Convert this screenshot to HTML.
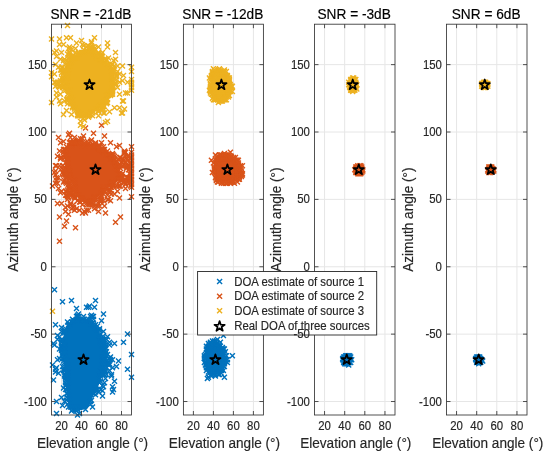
<!DOCTYPE html><html><head><meta charset="utf-8"><style>html,body{margin:0;padding:0;background:#fff;width:550px;height:459px;overflow:hidden}svg{display:block;will-change:transform}text{font-family:"Liberation Sans", sans-serif}</style></head><body>
<svg width="550" height="459" viewBox="0 0 550 459">
<rect width="550" height="459" fill="#fff"/>
<defs>
<marker id="mb" markerUnits="userSpaceOnUse" markerWidth="8" markerHeight="8" refX="4" refY="4" overflow="visible"><path d="M1.5 1.5L6.5 6.5M1.5 6.5L6.5 1.5" stroke="#0072BD" stroke-width="1.4" fill="none"/></marker>
<marker id="mo" markerUnits="userSpaceOnUse" markerWidth="8" markerHeight="8" refX="4" refY="4" overflow="visible"><path d="M1.5 1.5L6.5 6.5M1.5 6.5L6.5 1.5" stroke="#D95319" stroke-width="1.4" fill="none"/></marker>
<marker id="my" markerUnits="userSpaceOnUse" markerWidth="8" markerHeight="8" refX="4" refY="4" overflow="visible"><path d="M1.5 1.5L6.5 6.5M1.5 6.5L6.5 1.5" stroke="#EDB120" stroke-width="1.4" fill="none"/></marker>
</defs>
<path d="M61.50 24.20V415.00M81.50 24.20V415.00M101.50 24.20V415.00M121.50 24.20V415.00M51.50 401.52H131.50M51.50 334.14H131.50M51.50 266.77H131.50M51.50 199.39H131.50M51.50 132.01H131.50M51.50 64.63H131.50" stroke="#e6e6e6" stroke-width="1.00" fill="none"/>
<path d="M193.40 24.20V415.00M213.40 24.20V415.00M233.40 24.20V415.00M253.40 24.20V415.00M183.40 401.52H263.40M183.40 334.14H263.40M183.40 266.77H263.40M183.40 199.39H263.40M183.40 132.01H263.40M183.40 64.63H263.40" stroke="#e6e6e6" stroke-width="1.00" fill="none"/>
<path d="M324.56 24.20V415.00M344.69 24.20V415.00M364.81 24.20V415.00M384.94 24.20V415.00M314.50 401.52H395.00M314.50 334.14H395.00M314.50 266.77H395.00M314.50 199.39H395.00M314.50 132.01H395.00M314.50 64.63H395.00" stroke="#e6e6e6" stroke-width="1.00" fill="none"/>
<path d="M456.56 24.20V415.00M476.69 24.20V415.00M496.81 24.20V415.00M516.94 24.20V415.00M446.50 401.52H527.00M446.50 334.14H527.00M446.50 266.77H527.00M446.50 199.39H527.00M446.50 132.01H527.00M446.50 64.63H527.00" stroke="#e6e6e6" stroke-width="1.00" fill="none"/>
<path d="M80.4 318.0L79.3 318.0L78.1 318.0L76.9 318.0L75.8 318.2L74.6 318.7L73.3 319.3L72.0 320.3L70.6 321.5L69.2 322.9L67.8 324.4L66.6 326.1L65.6 327.8L64.8 329.8L64.2 331.9L63.7 334.2L63.4 336.5L63.1 338.8L62.9 340.9L62.7 342.9L62.7 344.9L62.7 346.8L62.7 348.7L62.9 350.5L63.0 352.3L63.2 354.0L63.4 355.7L63.7 357.3L64.0 358.8L64.2 360.4L64.5 362.0L64.8 363.6L65.0 365.3L65.3 367.0L65.5 368.7L65.6 370.5L65.8 372.3L65.9 374.2L66.0 376.3L66.1 378.5L66.2 380.6L66.3 382.7L66.4 384.7L66.4 386.5L66.4 388.1L66.4 389.7L66.5 391.2L66.5 392.7L66.6 394.2L66.8 395.6L67.0 396.9L67.2 398.2L67.4 399.5L67.7 400.7L68.0 401.9L68.3 403.1L68.6 404.4L68.9 405.7L69.2 406.9L69.8 407.9L70.5 408.7L71.6 409.3L72.8 409.7L74.2 409.9L75.7 410.0L77.2 410.0L78.6 410.0L80.0 410.0L81.4 409.9L82.9 409.8L84.3 409.5L85.6 409.1L86.7 408.5L87.6 407.7L88.5 406.6L89.2 405.4L89.8 404.2L90.4 402.9L91.0 401.6L91.6 400.4L92.2 399.1L92.6 397.8L93.1 396.5L93.7 395.2L94.3 393.8L95.0 392.3L95.8 390.9L96.6 389.4L97.4 387.8L98.2 386.2L98.9 384.4L99.7 382.5L100.5 380.5L101.3 378.4L102.0 376.3L102.6 374.3L103.2 372.4L103.5 370.6L103.8 368.8L104.0 367.0L104.2 365.3L104.3 363.7L104.5 362.0L104.7 360.4L104.9 358.8L105.0 357.2L105.1 355.6L105.1 354.0L105.0 352.3L104.8 350.6L104.5 348.8L104.0 346.9L103.5 345.0L103.0 343.1L102.4 341.1L101.7 339.0L101.0 336.8L100.2 334.5L99.2 332.2L98.2 330.1L97.0 328.1L95.7 326.4L94.1 324.7L92.4 323.1L90.7 321.7L89.0 320.5L87.5 319.5L86.2 318.8L85.0 318.3L83.8 318.1L82.7 318.0L81.6 318.0Z" fill="#0072BD"/>
<polyline points="52.5,365.1 53.5,343.6 53.5,380.0 54.5,289.7 54.5,344.9 55.5,324.7 55.5,369.2 55.5,371.9 56.5,367.8 56.5,401.5 56.5,413.6 57.5,335.5 57.5,339.5 57.5,359.8 58.5,373.2 59.5,336.8 59.5,349.0 59.5,358.4 61.5,327.4 61.5,331.4 61.5,339.5 61.5,340.9 61.5,342.2 61.5,346.3 61.5,347.6 61.5,349.0 61.5,350.3 61.5,397.5 62.5,301.8 62.5,343.6 62.5,346.3 62.5,350.3 62.5,353.0 62.5,354.4 62.5,355.7 62.5,358.4 62.5,366.5 62.5,405.6 63.5,331.4 63.5,343.6 63.5,351.7 63.5,353.0 63.5,358.4 63.5,361.1 63.5,369.2 63.5,370.5 63.5,388.1 64.5,330.1 64.5,331.4 64.5,332.8 64.5,342.2 64.5,344.9 64.5,349.0 64.5,351.7 64.5,353.0 64.5,357.1 64.5,362.4 64.5,374.6 64.5,375.9 64.5,401.5 65.5,328.8 65.5,331.4 65.5,369.2 65.5,374.6 65.5,375.9 65.5,377.3 65.5,380.0 65.5,382.7 65.5,385.4 65.5,389.4 66.5,359.8 66.5,361.1 66.5,362.4 66.5,365.1 66.5,367.8 66.5,371.9 66.5,377.3 66.5,384.0 66.5,393.4 66.5,397.5 66.5,400.2 67.5,322.0 67.5,362.4 67.5,365.1 67.5,369.2 67.5,371.9 67.5,375.9 67.5,380.0 67.5,386.7 67.5,388.1 67.5,393.4 67.5,404.2 68.5,324.7 68.5,326.1 68.5,367.8 68.5,374.6 68.5,382.7 68.5,394.8 68.5,406.9 69.5,323.4 69.5,324.7 69.5,326.1 69.5,398.8 70.5,406.9 71.5,300.5 71.5,322.0 71.5,411.0 72.5,319.3 72.5,322.0 72.5,406.9 72.5,409.6 73.5,320.7 73.5,408.3 74.5,406.9 74.5,409.6 75.5,409.6 76.5,308.5 76.5,316.6 76.5,406.9 76.5,411.0 77.5,315.3 77.5,316.6 77.5,319.3 77.5,408.3 77.5,409.6 77.5,415.0 78.5,313.9 78.5,316.6 79.5,413.6 80.5,320.7 82.5,319.3 83.5,316.6 83.5,319.3 85.5,409.6 86.5,307.2 86.5,320.7 87.5,320.7 88.5,307.2 88.5,319.3 89.5,305.9 89.5,320.7 90.5,316.6 90.5,319.3 90.5,323.4 90.5,401.5 90.5,404.2 91.5,315.3 91.5,323.4 91.5,324.7 91.5,400.2 92.5,316.6 92.5,323.4 92.5,406.9 93.5,316.6 93.5,319.3 93.5,324.7 93.5,393.4 94.5,307.2 94.5,326.1 94.5,327.4 95.5,300.5 95.5,324.7 95.5,388.1 95.5,389.4 95.5,392.1 95.5,394.8 96.5,330.1 96.5,389.4 96.5,390.7 97.5,326.1 97.5,389.4 98.5,330.1 98.5,392.1 99.5,328.8 99.5,330.1 99.5,336.8 99.5,339.5 99.5,374.6 99.5,378.6 99.5,382.7 100.5,334.1 100.5,340.9 100.5,342.2 100.5,370.5 100.5,373.2 100.5,375.9 100.5,381.3 100.5,389.4 101.5,320.7 101.5,367.8 101.5,370.5 102.5,336.8 102.5,338.2 102.5,344.9 102.5,346.3 102.5,357.1 102.5,358.4 102.5,361.1 102.5,363.8 102.5,365.1 102.5,369.2 102.5,371.9 102.5,373.2 102.5,385.4 102.5,390.7 102.5,396.1 103.5,313.9 103.5,331.4 103.5,339.5 103.5,340.9 103.5,347.6 103.5,355.7 103.5,357.1 103.5,359.8 103.5,366.5 103.5,374.6 103.5,386.7 104.5,343.6 104.5,344.9 104.5,350.3 104.5,355.7 104.5,359.8 104.5,361.1 104.5,363.8 104.5,367.8 104.5,374.6 104.5,382.7 105.5,344.9 105.5,347.6 105.5,349.0 105.5,353.0 105.5,354.4 105.5,370.5 105.5,371.9 105.5,378.6 106.5,339.5 106.5,351.7 106.5,363.8 106.5,367.8 106.5,374.6 107.5,336.8 107.5,354.4 107.5,361.1 107.5,363.8 108.5,358.4 108.5,365.1 109.5,342.2 109.5,344.9 109.5,358.4 109.5,363.8 109.5,365.1 109.5,370.5 110.5,357.1 110.5,359.8 111.5,374.6 111.5,375.9 112.5,359.8 112.5,367.8 112.5,386.7 112.5,392.1 113.5,389.4 114.5,343.6 114.5,381.3 116.5,366.5 118.5,361.1 123.5,342.2 127.5,334.1 127.5,369.2 131.5,354.4 131.5,377.3" fill="none" stroke="none" marker-start="url(#mb)" marker-mid="url(#mb)" marker-end="url(#mb)"/>
<path d="M82.9 142.8L80.8 142.7L78.5 142.6L76.2 142.6L74.0 142.7L72.0 142.9L70.3 143.4L68.8 144.2L67.5 145.1L66.5 146.3L65.6 147.5L64.9 148.9L64.4 150.3L64.1 151.9L64.1 153.7L64.3 155.5L64.6 157.4L64.9 159.2L65.2 160.9L65.4 162.5L65.6 164.1L65.8 165.6L66.1 167.1L66.3 168.6L66.5 170.0L66.6 171.4L66.6 172.9L66.6 174.3L66.6 175.7L66.8 177.0L67.2 178.2L67.8 179.1L68.8 179.9L69.8 180.5L70.9 181.2L71.8 181.9L72.4 182.8L72.8 183.9L72.9 185.2L72.9 186.6L73.0 188.0L73.1 189.4L73.4 190.7L74.0 191.9L74.7 193.0L75.6 194.0L76.5 195.0L77.4 196.0L78.2 197.0L79.0 197.9L79.8 198.8L80.7 199.6L81.5 200.4L82.3 201.1L83.2 201.6L84.0 202.1L84.9 202.4L85.7 202.7L86.6 202.9L87.4 203.0L88.3 203.0L89.1 203.0L90.0 202.9L90.9 202.7L91.7 202.4L92.6 202.0L93.4 201.5L94.2 200.9L95.0 200.2L95.8 199.4L96.6 198.6L97.5 197.7L98.4 196.8L99.3 195.8L100.3 194.8L101.3 193.8L102.4 192.7L103.6 191.6L104.8 190.5L106.2 189.4L107.7 188.1L109.4 186.8L111.1 185.6L112.7 184.4L114.2 183.3L115.5 182.5L116.9 181.7L118.1 181.1L119.2 180.3L120.1 179.5L120.7 178.5L121.0 177.3L121.0 176.0L120.7 174.5L120.4 173.0L119.9 171.5L119.5 170.0L119.1 168.5L118.6 167.0L118.1 165.5L117.5 164.0L116.8 162.4L115.8 160.8L114.7 159.2L113.4 157.5L112.1 155.8L110.6 154.1L109.0 152.5L107.3 151.1L105.4 149.7L103.4 148.5L101.3 147.3L99.2 146.2L97.0 145.2L95.0 144.4L92.9 143.8L90.9 143.4L88.9 143.2L86.9 143.0L84.9 142.9Z" fill="#D95319"/>
<polyline points="52.5,185.9 54.5,172.4 55.5,165.7 55.5,171.1 55.5,175.1 55.5,183.2 56.5,165.7 56.5,177.8 56.5,180.5 57.5,156.3 57.5,183.2 57.5,203.4 58.5,137.4 58.5,177.8 58.5,188.6 59.5,150.9 59.5,165.7 59.5,216.9 59.5,241.2 60.5,142.8 60.5,157.6 60.5,159.0 60.5,169.7 60.5,192.7 61.5,157.6 61.5,191.3 61.5,203.4 62.5,165.7 62.5,172.4 63.5,141.4 63.5,149.5 63.5,152.2 63.5,169.7 63.5,173.8 63.5,175.1 63.5,181.9 64.5,149.5 64.5,154.9 64.5,157.6 64.5,167.0 64.5,171.1 64.5,180.5 64.5,226.3 65.5,149.5 65.5,154.9 65.5,157.6 65.5,163.0 65.5,168.4 65.5,175.1 65.5,177.8 65.5,181.9 65.5,191.3 65.5,195.3 65.5,207.5 65.5,211.5 66.5,146.8 66.5,150.9 66.5,159.0 66.5,175.1 66.5,177.8 66.5,183.2 66.5,191.3 66.5,195.3 66.5,220.9 67.5,159.0 67.5,163.0 67.5,165.7 67.5,168.4 67.5,172.4 67.5,175.1 67.5,176.5 67.5,189.9 67.5,195.3 67.5,196.7 67.5,199.4 67.5,206.1 68.5,134.7 68.5,168.4 68.5,172.4 68.5,180.5 68.5,183.2 68.5,184.6 68.5,188.6 68.5,198.0 68.5,214.2 69.5,133.3 69.5,142.8 69.5,145.5 69.5,171.1 69.5,175.1 69.5,185.9 69.5,188.6 69.5,192.7 69.5,194.0 70.5,137.4 70.5,142.8 70.5,177.8 70.5,180.5 70.5,188.6 70.5,189.9 70.5,194.0 70.5,203.4 70.5,204.8 71.5,142.8 71.5,144.1 71.5,145.5 71.5,184.6 71.5,208.8 72.5,142.8 72.5,187.3 72.5,188.6 72.5,194.0 72.5,196.7 73.5,141.4 73.5,142.8 73.5,180.5 73.5,191.3 73.5,194.0 73.5,204.8 73.5,207.5 74.5,137.4 74.5,142.8 74.5,180.5 74.5,183.2 74.5,184.6 74.5,187.3 74.5,188.6 74.5,189.9 74.5,196.7 74.5,198.0 74.5,210.2 75.5,142.8 75.5,188.6 75.5,192.7 75.5,198.0 75.5,227.7 76.5,141.4 76.5,142.8 76.5,195.3 76.5,208.8 77.5,142.8 77.5,200.7 78.5,140.1 78.5,195.3 79.5,142.8 79.5,198.0 79.5,202.1 79.5,210.2 80.5,138.7 80.5,144.1 80.5,202.1 81.5,141.4 81.5,145.5 81.5,198.0 81.5,199.4 82.5,138.7 82.5,199.4 82.5,200.7 82.5,204.8 82.5,212.9 83.5,136.1 84.5,142.8 84.5,144.1 84.5,145.5 84.5,211.5 85.5,128.0 85.5,212.9 86.5,200.7 86.5,203.4 86.5,210.2 87.5,141.4 87.5,204.8 88.5,144.1 88.5,210.2 89.5,145.5 89.5,202.1 89.5,203.4 89.5,204.8 90.5,141.4 90.5,200.7 91.5,140.1 91.5,202.1 92.5,200.7 92.5,204.8 93.5,133.3 93.5,145.5 93.5,146.8 93.5,199.4 93.5,203.4 94.5,146.8 94.5,196.7 94.5,198.0 94.5,199.4 94.5,206.1 94.5,208.8 95.5,142.8 95.5,144.1 95.5,145.5 96.5,199.4 97.5,206.1 98.5,145.5 98.5,148.2 98.5,203.4 98.5,211.5 99.5,145.5 99.5,146.8 99.5,149.5 99.5,196.7 99.5,206.1 100.5,149.5 100.5,199.4 100.5,200.7 100.5,202.1 101.5,125.3 101.5,142.8 101.5,149.5 101.5,192.7 101.5,195.3 101.5,196.7 101.5,200.7 102.5,150.9 102.5,188.6 103.5,146.8 103.5,149.5 103.5,152.2 103.5,187.3 103.5,189.9 103.5,191.3 103.5,194.0 103.5,200.7 104.5,136.1 104.5,149.5 104.5,191.3 104.5,206.1 105.5,191.3 105.5,212.9 106.5,154.9 106.5,188.6 107.5,150.9 107.5,195.3 107.5,199.4 108.5,153.6 108.5,199.4 109.5,154.9 109.5,184.6 109.5,189.9 109.5,192.7 110.5,142.8 110.5,154.9 110.5,156.3 110.5,159.0 110.5,183.2 110.5,187.3 110.5,189.9 110.5,200.7 111.5,159.0 111.5,184.6 111.5,187.3 111.5,194.0 112.5,153.6 112.5,154.9 112.5,181.9 112.5,183.2 112.5,184.6 112.5,185.9 113.5,154.9 113.5,157.6 113.5,161.7 113.5,184.6 113.5,185.9 114.5,156.3 114.5,159.0 114.5,160.3 114.5,194.0 115.5,163.0 115.5,164.3 115.5,167.0 115.5,180.5 115.5,222.3 116.5,146.8 116.5,168.4 116.5,185.9 117.5,161.7 117.5,165.7 117.5,167.0 117.5,191.3 118.5,159.0 118.5,169.7 118.5,179.2 118.5,185.9 119.5,145.5 119.5,157.6 119.5,164.3 119.5,165.7 119.5,173.8 119.5,176.5 119.5,181.9 119.5,185.9 119.5,198.0 120.5,157.6 120.5,165.7 120.5,168.4 120.5,175.1 120.5,180.5 120.5,185.9 120.5,216.9 121.5,159.0 121.5,161.7 121.5,175.1 121.5,176.5 121.5,179.2 121.5,180.5 122.5,159.0 122.5,165.7 122.5,173.8 122.5,176.5 123.5,160.3 124.5,150.9 124.5,152.2 124.5,153.6 124.5,164.3 124.5,180.5 124.5,181.9 125.5,152.2 125.5,156.3 125.5,161.7 125.5,163.0 125.5,165.7 125.5,183.2 125.5,184.6 125.5,188.6 126.5,159.0 126.5,167.0 126.5,168.4 126.5,177.8 127.5,156.3 127.5,165.7 127.5,177.8 127.5,180.5 128.5,169.7 128.5,177.8 128.5,183.2 129.5,165.7 129.5,167.0 129.5,173.8 129.5,177.8 130.5,157.6 130.5,159.0 130.5,163.0 130.5,164.3 130.5,172.4 130.5,179.2 130.5,181.9 130.5,185.9 131.5,146.8 131.5,152.2 131.5,154.9 131.5,157.6 131.5,160.3 131.5,163.0 131.5,165.7 131.5,168.4 131.5,171.1 131.5,173.8 131.5,176.5 131.5,179.2 131.5,181.9 131.5,184.6 131.5,187.3 131.5,196.7" fill="none" stroke="none" marker-start="url(#mo)" marker-mid="url(#mo)" marker-end="url(#mo)"/>
<path d="M87.6 49.0L86.8 49.0L86.1 49.1L85.4 49.3L84.7 49.5L83.8 49.9L82.8 50.4L81.6 51.1L80.3 51.9L78.8 52.7L77.3 53.7L75.8 54.8L74.4 55.9L73.1 57.2L71.7 58.6L70.3 60.1L69.1 61.6L68.0 63.2L67.0 64.7L66.4 66.2L65.9 67.7L65.6 69.3L65.4 70.8L65.2 72.5L65.1 74.2L64.8 76.0L64.6 77.9L64.4 79.9L64.3 81.9L64.3 83.8L64.5 85.6L64.9 87.3L65.6 89.0L66.4 90.6L67.2 92.1L68.0 93.7L68.8 95.2L69.4 96.8L70.0 98.5L70.5 100.1L71.1 101.7L71.7 103.2L72.3 104.6L73.0 105.9L73.6 107.0L74.3 108.1L74.9 109.1L75.6 110.0L76.2 111.0L76.8 111.9L77.3 112.8L77.8 113.6L78.3 114.4L78.8 115.1L79.4 115.7L80.1 116.1L80.9 116.5L81.7 116.8L82.5 116.9L83.3 117.0L84.1 117.0L84.9 117.0L85.6 116.9L86.3 116.7L87.1 116.4L87.9 116.0L88.9 115.5L90.0 114.9L91.2 114.2L92.5 113.4L93.8 112.6L95.1 111.7L96.4 110.8L97.6 109.8L98.8 108.9L100.1 108.0L101.3 106.9L102.5 105.8L103.7 104.6L104.8 103.3L105.9 101.8L107.1 100.2L108.1 98.7L109.2 97.1L110.1 95.5L111.0 93.9L111.9 92.3L112.8 90.7L113.5 89.1L114.1 87.4L114.5 85.7L114.7 83.8L114.7 81.8L114.6 79.8L114.4 77.8L114.2 75.8L113.9 74.0L113.6 72.3L113.5 70.6L113.2 69.1L112.8 67.5L112.0 66.0L110.8 64.6L109.0 63.1L106.7 61.7L104.0 60.2L101.4 58.9L99.1 57.5L97.3 56.2L96.0 55.0L95.0 53.9L94.3 52.9L93.6 51.9L93.0 51.1L92.3 50.5L91.5 49.9L90.7 49.5L89.9 49.3L89.1 49.1L88.4 49.0Z" fill="#EDB120"/>
<polyline points="51.5,39.0 51.5,72.7 51.5,76.8 51.5,102.4 52.5,311.2 54.5,52.5 54.5,74.1 54.5,82.2 55.5,64.6 55.5,82.2 55.5,86.2 56.5,51.1 56.5,56.5 56.5,92.9 56.5,97.0 57.5,82.2 57.5,84.8 58.5,67.3 58.5,86.2 59.5,39.0 59.5,44.4 59.5,86.2 59.5,87.5 59.5,101.0 60.5,59.2 60.5,70.0 60.5,80.8 60.5,82.2 60.5,94.3 60.5,103.7 61.5,52.5 61.5,67.3 61.5,70.0 61.5,72.7 61.5,78.1 62.5,67.3 62.5,80.8 62.5,83.5 62.5,87.5 63.5,44.4 63.5,60.6 63.5,72.7 63.5,74.1 63.5,78.1 63.5,80.8 63.5,86.2 63.5,87.5 63.5,114.5 64.5,59.2 64.5,68.7 64.5,70.0 64.5,71.4 64.5,75.4 64.5,88.9 64.5,101.0 65.5,60.6 65.5,64.6 65.5,70.0 65.5,80.8 65.5,83.5 65.5,84.8 65.5,86.2 65.5,90.2 66.5,37.7 66.5,74.1 66.5,75.4 66.5,78.1 66.5,79.5 66.5,80.8 66.5,86.2 66.5,87.5 66.5,99.7 66.5,110.5 67.5,25.6 67.5,53.9 67.5,64.6 67.5,66.0 67.5,70.0 67.5,76.8 67.5,78.1 67.5,87.5 67.5,90.2 67.5,94.3 67.5,98.3 67.5,99.7 67.5,101.0 67.5,103.7 68.5,48.5 68.5,57.9 68.5,61.9 68.5,68.7 68.5,90.2 68.5,91.6 69.5,47.1 69.5,52.5 69.5,53.9 69.5,57.9 69.5,63.3 69.5,64.6 69.5,66.0 69.5,90.2 69.5,91.6 69.5,98.3 70.5,37.7 70.5,48.5 70.5,61.9 70.5,63.3 70.5,97.0 70.5,98.3 70.5,101.0 70.5,102.4 70.5,103.7 71.5,49.8 71.5,57.9 71.5,114.5 72.5,56.5 72.5,59.2 72.5,99.7 72.5,102.4 72.5,106.4 72.5,107.8 73.5,55.2 73.5,59.2 73.5,60.6 74.5,57.9 74.5,106.4 74.5,107.8 74.5,109.1 75.5,48.5 75.5,52.5 75.5,110.5 76.5,43.1 76.5,53.9 76.5,57.9 77.5,110.5 77.5,111.8 77.5,114.5 77.5,115.8 78.5,52.5 78.5,53.9 78.5,113.1 78.5,115.8 79.5,113.1 79.5,115.8 80.5,113.1 80.5,121.2 80.5,125.3 81.5,40.4 81.5,52.5 81.5,114.5 81.5,115.8 82.5,44.4 83.5,45.8 83.5,49.8 83.5,52.5 83.5,118.5 83.5,126.6 84.5,114.5 84.5,119.9 85.5,52.5 85.5,114.5 86.5,47.1 86.5,51.1 87.5,45.8 87.5,115.8 88.5,45.8 88.5,117.2 89.5,49.8 89.5,51.1 89.5,115.8 90.5,47.1 90.5,49.8 90.5,111.8 90.5,114.5 91.5,41.7 91.5,43.1 92.5,47.1 92.5,49.8 92.5,113.1 92.5,115.8 93.5,47.1 93.5,52.5 93.5,53.9 93.5,111.8 94.5,37.7 94.5,48.5 94.5,51.1 95.5,49.8 95.5,53.9 96.5,56.5 96.5,57.9 96.5,109.1 98.5,47.1 98.5,52.5 98.5,53.9 98.5,109.1 98.5,110.5 98.5,111.8 98.5,115.8 99.5,56.5 99.5,59.2 99.5,106.4 100.5,56.5 100.5,59.2 100.5,60.6 100.5,105.1 101.5,53.9 101.5,56.5 101.5,59.2 101.5,60.6 101.5,105.1 101.5,109.1 102.5,52.5 102.5,56.5 102.5,60.6 102.5,106.4 102.5,107.8 102.5,109.1 103.5,102.4 103.5,103.7 103.5,105.1 103.5,106.4 103.5,113.1 104.5,59.2 104.5,61.9 104.5,101.0 104.5,106.4 104.5,113.1 105.5,122.6 106.5,59.2 106.5,60.6 106.5,95.6 106.5,99.7 106.5,101.0 106.5,102.4 106.5,103.7 107.5,43.1 107.5,47.1 107.5,64.6 107.5,94.3 107.5,95.6 107.5,99.7 107.5,102.4 107.5,121.2 108.5,57.9 108.5,64.6 108.5,95.6 109.5,92.9 109.5,111.8 110.5,67.3 110.5,94.3 110.5,95.6 111.5,64.6 111.5,71.4 111.5,76.8 111.5,80.8 111.5,90.2 111.5,91.6 111.5,94.3 112.5,64.6 112.5,70.0 112.5,71.4 112.5,80.8 112.5,83.5 112.5,88.9 112.5,90.2 112.5,91.6 112.5,92.9 112.5,94.3 113.5,60.6 113.5,68.7 113.5,70.0 113.5,80.8 113.5,86.2 114.5,66.0 114.5,78.1 114.5,83.5 114.5,107.8 115.5,52.5 115.5,59.2 115.5,83.5 115.5,84.8 116.5,74.1 116.5,75.4 116.5,76.8 116.5,79.5 117.5,66.0 117.5,71.4 117.5,87.5 119.5,74.1 119.5,82.2 119.5,94.3 119.5,107.8 121.5,113.1 122.5,66.0 122.5,80.8 122.5,101.0 122.5,113.1 123.5,75.4 123.5,101.0 124.5,109.1 125.5,92.9 127.5,82.2 127.5,92.9 131.5,67.3 131.5,71.4 131.5,79.5 131.5,82.2 131.5,84.8 131.5,87.5 131.5,90.2" fill="none" stroke="none" marker-start="url(#my)" marker-mid="url(#my)" marker-end="url(#my)"/>
<path d="M214.7 342.5L213.7 342.5L212.7 342.6L211.7 342.8L210.8 343.0L209.9 343.3L209.2 343.8L208.6 344.3L208.1 344.8L207.8 345.5L207.4 346.3L207.2 347.2L206.9 348.3L206.7 349.6L206.5 351.2L206.3 352.9L206.2 354.5L206.1 356.0L206.0 357.4L205.9 358.6L205.9 359.7L205.9 360.8L205.9 361.9L206.0 363.0L206.1 364.0L206.2 365.0L206.5 366.0L206.8 366.9L207.1 367.9L207.4 368.7L207.7 369.5L208.0 370.3L208.4 371.0L208.7 371.6L209.1 372.2L209.5 372.7L210.0 373.2L210.7 373.6L211.4 373.9L212.2 374.2L213.0 374.4L213.9 374.5L214.7 374.5L215.4 374.5L216.2 374.3L217.0 374.1L217.8 373.8L218.6 373.5L219.3 373.1L219.9 372.6L220.5 372.1L221.0 371.5L221.5 370.9L222.0 370.2L222.4 369.5L222.8 368.7L223.2 367.8L223.6 366.9L223.9 365.9L224.2 364.9L224.4 363.9L224.6 362.9L224.8 361.9L225.0 360.8L225.1 359.7L225.1 358.6L225.0 357.4L224.7 356.0L224.3 354.5L223.8 353.0L223.2 351.4L222.7 349.8L222.3 348.5L222.0 347.4L221.7 346.4L221.4 345.6L221.1 345.0L220.7 344.4L220.1 343.9L219.4 343.4L218.5 343.1L217.6 342.8L216.6 342.6L215.6 342.5Z" fill="#0072BD"/>
<polyline points="204.4,355.7 204.4,357.1 204.4,358.4 204.4,362.4 205.4,354.4 205.4,358.4 205.4,365.1 206.4,346.3 206.4,349.0 206.4,353.0 206.4,358.4 206.4,362.4 206.4,363.8 206.4,365.1 206.4,367.8 206.4,370.5 207.4,347.6 207.4,350.3 207.4,351.7 207.4,353.0 207.4,367.8 207.4,378.6 208.4,343.6 208.4,346.3 208.4,350.3 208.4,359.8 208.4,365.1 208.4,367.8 208.4,371.9 208.4,377.3 209.4,344.9 209.4,346.3 209.4,347.6 209.4,349.0 209.4,350.3 209.4,353.0 209.4,357.1 209.4,358.4 209.4,361.1 209.4,362.4 209.4,365.1 209.4,367.8 209.4,373.2 210.4,342.2 210.4,343.6 210.4,347.6 210.4,354.4 210.4,357.1 210.4,359.8 210.4,366.5 210.4,369.2 210.4,370.5 210.4,371.9 211.4,343.6 211.4,370.5 211.4,374.6 211.4,375.9 212.4,340.9 213.4,343.6 213.4,346.3 213.4,370.5 213.4,374.6 214.4,340.9 215.4,346.3 215.4,370.5 215.4,374.6 215.4,375.9 216.4,340.9 216.4,343.6 216.4,344.9 216.4,346.3 216.4,370.5 217.4,339.5 217.4,343.6 217.4,369.2 217.4,370.5 217.4,371.9 218.4,347.6 218.4,369.2 218.4,374.6 219.4,344.9 219.4,346.3 219.4,347.6 219.4,349.0 219.4,350.3 219.4,369.2 219.4,370.5 219.4,374.6 220.4,342.2 220.4,351.7 220.4,354.4 220.4,355.7 220.4,365.1 220.4,366.5 220.4,367.8 221.4,354.4 221.4,355.7 221.4,357.1 221.4,358.4 221.4,361.1 221.4,362.4 221.4,363.8 221.4,366.5 221.4,367.8 221.4,370.5 221.4,373.2 222.4,347.6 222.4,349.0 222.4,351.7 222.4,353.0 222.4,357.1 222.4,358.4 222.4,369.2 223.4,335.5 223.4,349.0 223.4,354.4 223.4,363.8 223.4,370.5 224.4,349.0 224.4,353.0 224.4,358.4 224.4,359.8 224.4,362.4 224.4,363.8 224.4,366.5 224.4,377.3 225.4,351.7 225.4,359.8 225.4,361.1 226.4,355.7 227.4,359.8 227.4,362.4 232.4,355.7" fill="none" stroke="none" marker-start="url(#mb)" marker-mid="url(#mb)" marker-end="url(#mb)"/>
<path d="M224.2 155.4L223.1 155.4L222.0 155.4L220.8 155.6L219.7 155.8L218.7 156.0L217.9 156.4L217.3 156.7L216.9 157.1L216.7 157.5L216.6 158.1L216.5 158.9L216.4 159.8L216.2 161.1L216.0 162.6L215.8 164.2L215.6 165.8L215.5 167.4L215.5 168.9L215.6 170.3L215.8 171.8L216.0 173.2L216.3 174.6L216.6 175.9L216.8 177.1L217.0 178.1L217.2 179.0L217.3 179.8L217.6 180.5L218.0 181.0L218.7 181.5L219.6 181.9L220.7 182.2L222.0 182.4L223.3 182.5L224.6 182.5L225.9 182.5L227.0 182.5L228.2 182.4L229.4 182.2L230.5 181.9L231.7 181.6L232.8 181.2L234.0 180.8L235.3 180.3L236.6 179.7L237.8 179.0L238.8 178.2L239.6 177.2L240.1 176.1L240.3 174.8L240.4 173.3L240.4 171.8L240.2 170.4L240.0 168.9L239.7 167.4L239.3 165.8L238.8 164.2L238.2 162.6L237.5 161.2L236.8 160.0L235.9 159.1L234.8 158.5L233.7 158.0L232.5 157.6L231.4 157.3L230.3 156.9L229.3 156.5L228.3 156.2L227.3 155.9L226.3 155.7L225.3 155.5Z" fill="#D95319"/>
<polyline points="211.4,160.3 212.4,172.4 213.4,163.0 214.4,167.0 214.4,168.4 214.4,169.7 214.4,172.4 215.4,154.9 215.4,159.0 215.4,169.7 215.4,173.8 215.4,177.8 216.4,161.7 216.4,163.0 216.4,164.3 216.4,167.0 216.4,175.1 216.4,176.5 216.4,179.2 216.4,180.5 217.4,157.6 217.4,159.0 217.4,164.3 217.4,165.7 217.4,168.4 217.4,171.1 217.4,172.4 217.4,181.9 218.4,156.3 218.4,159.0 218.4,171.1 218.4,179.2 218.4,181.9 219.4,154.9 219.4,164.3 219.4,168.4 219.4,171.1 219.4,172.4 219.4,173.8 219.4,175.1 219.4,176.5 219.4,180.5 220.4,154.9 220.4,159.0 220.4,177.8 221.4,154.9 221.4,159.0 221.4,181.9 221.4,183.2 222.4,159.0 222.4,179.2 223.4,154.9 223.4,183.2 224.4,153.6 224.4,159.0 224.4,180.5 225.4,154.9 225.4,159.0 225.4,180.5 225.4,183.2 226.4,154.9 226.4,159.0 226.4,179.2 226.4,180.5 226.4,183.2 227.4,159.0 227.4,179.2 227.4,183.2 228.4,154.9 228.4,156.3 229.4,161.7 229.4,179.2 230.4,152.2 230.4,156.3 230.4,157.6 230.4,159.0 230.4,177.8 230.4,181.9 230.4,183.2 231.4,156.3 231.4,161.7 231.4,177.8 231.4,181.9 232.4,161.7 232.4,177.8 232.4,180.5 232.4,181.9 233.4,157.6 233.4,159.0 233.4,161.7 233.4,163.0 233.4,176.5 233.4,177.8 234.4,160.3 234.4,163.0 234.4,176.5 234.4,183.2 235.4,157.6 235.4,160.3 235.4,163.0 235.4,165.7 235.4,167.0 236.4,160.3 236.4,161.7 236.4,165.7 236.4,167.0 236.4,169.7 236.4,176.5 236.4,179.2 237.4,160.3 237.4,161.7 237.4,167.0 237.4,169.7 237.4,172.4 237.4,173.8 237.4,175.1 237.4,176.5 237.4,181.9 238.4,160.3 238.4,163.0 238.4,165.7 238.4,167.0 238.4,179.2 239.4,167.0 239.4,171.1 239.4,176.5 239.4,177.8 239.4,179.2 240.4,165.7 240.4,167.0 241.4,171.1 241.4,172.4 241.4,173.8 241.4,175.1 241.4,176.5 242.4,165.7 242.4,173.8 242.4,175.1" fill="none" stroke="none" marker-start="url(#mo)" marker-mid="url(#mo)" marker-end="url(#mo)"/>
<path d="M218.5 68.5L217.9 68.5L217.3 68.6L216.7 68.8L216.1 69.1L215.6 69.4L215.1 69.8L214.6 70.3L214.2 70.8L213.8 71.4L213.4 72.0L213.0 72.7L212.7 73.4L212.5 74.2L212.3 74.9L212.2 75.7L212.1 76.6L212.0 77.6L212.0 78.7L211.9 80.0L211.9 81.5L211.8 83.1L211.7 84.6L211.6 86.0L211.4 87.3L211.3 88.4L211.2 89.5L211.2 90.5L211.2 91.4L211.2 92.3L211.3 93.1L211.4 93.8L211.6 94.5L211.9 95.0L212.1 95.6L212.4 96.1L212.7 96.6L213.1 97.1L213.4 97.6L213.7 98.0L214.1 98.5L214.6 98.9L215.1 99.2L215.8 99.5L216.6 99.8L217.5 100.1L218.4 100.3L219.3 100.5L220.2 100.5L221.0 100.4L221.9 100.3L222.8 100.1L223.6 99.8L224.4 99.5L225.2 99.1L225.8 98.8L226.4 98.4L227.0 97.9L227.5 97.5L227.9 97.0L228.4 96.5L228.8 96.0L229.2 95.5L229.5 95.0L229.8 94.4L230.1 93.8L230.2 93.0L230.4 92.2L230.4 91.4L230.5 90.4L230.4 89.5L230.3 88.4L230.1 87.3L229.8 86.0L229.4 84.6L229.1 83.1L228.8 81.6L228.5 80.2L228.2 78.9L227.9 77.8L227.6 76.9L227.2 76.0L226.8 75.2L226.3 74.5L225.8 73.8L225.2 73.0L224.6 72.3L223.9 71.7L223.2 71.0L222.5 70.5L221.8 70.0L221.2 69.6L220.7 69.2L220.1 68.9L219.6 68.7L219.0 68.5Z" fill="#EDB120"/>
<polyline points="209.4,78.1 209.4,90.2 210.4,79.5 210.4,84.8 210.4,86.2 210.4,87.5 210.4,88.9 210.4,90.2 210.4,91.6 210.4,92.9 211.4,75.4 211.4,76.8 211.4,78.1 211.4,80.8 211.4,84.8 211.4,90.2 211.4,94.3 212.4,71.4 212.4,72.7 212.4,74.1 212.4,75.4 212.4,82.2 212.4,83.5 212.4,94.3 212.4,98.3 213.4,68.7 213.4,80.8 213.4,87.5 213.4,90.2 213.4,91.6 213.4,95.6 213.4,99.7 214.4,70.0 214.4,71.4 214.4,74.1 214.4,75.4 214.4,76.8 214.4,78.1 214.4,83.5 214.4,86.2 214.4,88.9 214.4,91.6 214.4,99.7 215.4,71.4 215.4,75.4 215.4,78.1 215.4,80.8 215.4,83.5 215.4,84.8 215.4,92.9 215.4,94.3 215.4,99.7 216.4,74.1 216.4,84.8 217.4,97.0 217.4,99.7 218.4,70.0 218.4,97.0 218.4,102.4 219.4,68.7 219.4,70.0 219.4,72.7 219.4,95.6 219.4,97.0 219.4,101.0 220.4,72.7 220.4,101.0 221.4,74.1 221.4,95.6 221.4,101.0 222.4,74.1 222.4,75.4 222.4,101.0 223.4,71.4 223.4,76.8 223.4,95.6 223.4,99.7 224.4,70.0 224.4,71.4 224.4,74.1 224.4,75.4 224.4,83.5 224.4,95.6 224.4,99.7 225.4,75.4 225.4,76.8 225.4,79.5 225.4,80.8 225.4,82.2 225.4,84.8 225.4,94.3 225.4,95.6 225.4,97.0 225.4,99.7 226.4,71.4 226.4,83.5 226.4,84.8 226.4,86.2 226.4,88.9 226.4,97.0 226.4,99.7 227.4,75.4 227.4,76.8 227.4,78.1 227.4,86.2 227.4,90.2 228.4,78.1 228.4,83.5 228.4,88.9 228.4,90.2 228.4,91.6 228.4,92.9 228.4,95.6 228.4,97.0 229.4,78.1 229.4,79.5 229.4,80.8 229.4,83.5 229.4,84.8 229.4,91.6 229.4,95.6 230.4,84.8 230.4,86.2 230.4,90.2 230.4,91.6 231.4,86.2 231.4,87.5 232.4,86.2 232.4,91.6" fill="none" stroke="none" marker-start="url(#my)" marker-mid="url(#my)" marker-end="url(#my)"/>
<path d="M344 354h7v1h-7zM342 355h10v1h-10zM342 356h10v1h-10zM341 357h10v1h-10zM341 358h12v1h-12zM342 359h10v1h-10zM341 360h12v1h-12zM341 361h12v1h-12zM342 362h9v1h-9zM342 363h10v1h-10zM343 364h7v1h-7zM343 365h6v1h-6zM347 366h1v1h-1z" fill="#0072BD" shape-rendering="crispEdges"/>
<polyline points="342.7,358.4 342.7,359.8 343.7,357.1 343.7,358.4 343.7,359.8 343.7,361.1 343.7,362.4 344.7,357.1 344.7,362.4 344.7,363.8 345.7,355.7 345.7,357.1 345.7,363.8 346.7,355.7 346.7,363.8 347.7,355.7 347.7,358.4 347.7,362.4 347.7,363.8 348.7,355.7 348.7,358.4 348.7,362.4 348.7,365.1 349.7,355.7 349.7,357.1 349.7,358.4 349.7,359.8 349.7,362.4 350.7,357.1 350.7,359.8 350.7,362.4 351.7,359.8" fill="none" stroke="none" marker-start="url(#mb)" marker-mid="url(#mb)" marker-end="url(#mb)"/>
<path d="M356 164h1v1h-1zM358 164h2v1h-2zM361 164h1v1h-1zM354 165h9v1h-9zM354 166h10v1h-10zM354 167h9v1h-9zM353 168h11v1h-11zM354 169h10v1h-10zM354 170h10v1h-10zM353 171h11v1h-11zM354 172h10v1h-10zM354 173h9v1h-9zM356 174h7v1h-7zM356 175h6v1h-6z" fill="#D95319" shape-rendering="crispEdges"/>
<polyline points="354.8,169.7 355.8,167.0 355.8,168.4 355.8,169.7 355.8,171.1 355.8,172.4 356.8,167.0 356.8,172.4 357.8,165.7 357.8,167.0 357.8,168.4 357.8,169.7 357.8,172.4 357.8,173.8 358.8,173.8 359.8,165.7 359.8,173.8 360.8,165.7 360.8,167.0 360.8,172.4 360.8,173.8 361.8,167.0 361.8,168.4 361.8,169.7 361.8,171.1 361.8,172.4 362.8,169.7 362.8,171.1" fill="none" stroke="none" marker-start="url(#mo)" marker-mid="url(#mo)" marker-end="url(#mo)"/>
<path d="M351 76h1v1h-1zM354 76h1v1h-1zM351 77h5v1h-5zM349 78h8v1h-8zM349 79h7v1h-7zM349 80h8v1h-8zM348 81h10v1h-10zM348 82h9v1h-9zM347 83h11v1h-11zM348 84h9v1h-9zM348 85h10v1h-10zM347 86h11v1h-11zM348 87h10v1h-10zM348 88h9v1h-9zM349 89h9v1h-9zM349 90h7v1h-7zM349 91h7v1h-7zM351 92h1v1h-1z" fill="#EDB120" shape-rendering="crispEdges"/>
<polyline points="348.7,82.2 348.7,84.8 349.7,83.5 349.7,84.8 349.7,86.2 349.7,87.5 350.7,79.5 350.7,80.8 350.7,82.2 350.7,87.5 350.7,88.9 350.7,90.2 351.7,79.5 351.7,90.2 352.7,78.1 352.7,79.5 352.7,86.2 352.7,90.2 352.7,91.6 353.7,78.1 353.7,79.5 353.7,83.5 353.7,90.2 354.8,79.5 354.8,80.8 354.8,82.2 354.8,87.5 354.8,88.9 354.8,90.2 355.8,79.5 355.8,82.2 355.8,83.5 355.8,84.8 355.8,86.2 355.8,87.5 356.8,84.8 356.8,88.9" fill="none" stroke="none" marker-start="url(#my)" marker-mid="url(#my)" marker-end="url(#my)"/>
<path d="M475 355h6v1h-6zM475 356h7v1h-7zM474 357h8v1h-8zM474 358h9v1h-9zM475 359h7v1h-7zM474 360h9v1h-9zM474 361h9v1h-9zM475 362h7v1h-7zM475 363h1v1h-1zM477 363h5v1h-5zM477 364h4v1h-4z" fill="#0072BD" shape-rendering="crispEdges"/>
<polyline points="475.7,358.4 475.7,359.8 476.7,357.1 476.7,358.4 476.7,359.8 476.7,361.1 476.7,362.4 477.7,357.1 478.7,357.1 478.7,362.4 478.7,363.8 479.7,357.1 479.7,358.4 479.7,362.4 480.7,358.4 480.7,359.8 480.7,361.1 480.7,362.4 481.7,359.8 482.7,361.1" fill="none" stroke="none" marker-start="url(#mb)" marker-mid="url(#mb)" marker-end="url(#mb)"/>
<path d="M487 165h6v1h-6zM487 166h7v1h-7zM487 167h7v1h-7zM486 168h9v1h-9zM486 169h9v1h-9zM487 170h8v1h-8zM486 171h9v1h-9zM486 172h9v1h-9zM487 173h5v1h-5z" fill="#D95319" shape-rendering="crispEdges"/>
<polyline points="487.8,169.7 487.8,171.1 488.8,167.0 488.8,168.4 488.8,169.7 488.8,171.1 488.8,172.4 489.8,167.0 489.8,172.4 490.8,167.0 490.8,171.1 490.8,172.4 491.8,167.0 491.8,168.4 491.8,171.1 492.8,168.4 492.8,169.7 492.8,171.1 493.8,169.7 493.8,171.1" fill="none" stroke="none" marker-start="url(#mo)" marker-mid="url(#mo)" marker-end="url(#mo)"/>
<path d="M482 80h2v1h-2zM486 80h1v1h-1zM482 81h6v1h-6zM480 82h9v1h-9zM480 83h9v1h-9zM480 84h9v1h-9zM480 85h10v1h-10zM480 86h9v1h-9zM480 87h9v1h-9zM482 88h5v1h-5z" fill="#EDB120" shape-rendering="crispEdges"/>
<polyline points="481.7,83.5 481.7,84.8 481.7,86.2 482.7,83.5 482.7,86.2 483.7,82.2 483.7,83.5 483.7,86.2 483.7,87.5 484.7,82.2 484.7,87.5 485.7,82.2 485.7,83.5 485.7,86.2 485.7,87.5 486.8,83.5 486.8,86.2 487.8,83.5 487.8,84.8 487.8,86.2" fill="none" stroke="none" marker-start="url(#my)" marker-mid="url(#my)" marker-end="url(#my)"/>
<path d="M61.50 415.00v-4M61.50 24.20v4M81.50 415.00v-4M81.50 24.20v4M101.50 415.00v-4M101.50 24.20v4M121.50 415.00v-4M121.50 24.20v4M51.50 401.52h4M131.50 401.52h-4M51.50 334.14h4M131.50 334.14h-4M51.50 266.77h4M131.50 266.77h-4M51.50 199.39h4M131.50 199.39h-4M51.50 132.01h4M131.50 132.01h-4M51.50 64.63h4M131.50 64.63h-4" stroke="#333" stroke-width="0.85" fill="none"/>
<rect x="51.50" y="24.20" width="80.00" height="390.80" stroke="#333" stroke-width="0.85" fill="none"/>
<text transform="translate(61.50 430.20) scale(1 1.080)" font-size="11.40" fill="#262626" stroke="#262626" stroke-width="0.15" text-anchor="middle">20</text>
<text transform="translate(81.50 430.20) scale(1 1.080)" font-size="11.40" fill="#262626" stroke="#262626" stroke-width="0.15" text-anchor="middle">40</text>
<text transform="translate(101.50 430.20) scale(1 1.080)" font-size="11.40" fill="#262626" stroke="#262626" stroke-width="0.15" text-anchor="middle">60</text>
<text transform="translate(121.50 430.20) scale(1 1.080)" font-size="11.40" fill="#262626" stroke="#262626" stroke-width="0.15" text-anchor="middle">80</text>
<text transform="translate(46.90 405.62) scale(1 1.080)" font-size="11.40" fill="#262626" stroke="#262626" stroke-width="0.15" text-anchor="end">-100</text>
<text transform="translate(46.90 338.24) scale(1 1.080)" font-size="11.40" fill="#262626" stroke="#262626" stroke-width="0.15" text-anchor="end">-50</text>
<text transform="translate(46.90 270.87) scale(1 1.080)" font-size="11.40" fill="#262626" stroke="#262626" stroke-width="0.15" text-anchor="end">0</text>
<text transform="translate(46.90 203.49) scale(1 1.080)" font-size="11.40" fill="#262626" stroke="#262626" stroke-width="0.15" text-anchor="end">50</text>
<text transform="translate(46.90 136.11) scale(1 1.080)" font-size="11.40" fill="#262626" stroke="#262626" stroke-width="0.15" text-anchor="end">100</text>
<text transform="translate(46.90 68.73) scale(1 1.080)" font-size="11.40" fill="#262626" stroke="#262626" stroke-width="0.15" text-anchor="end">150</text>
<text transform="translate(92.50 448.10) scale(1 1.080)" font-size="13.60" fill="#262626" stroke="#262626" stroke-width="0.15" text-anchor="middle">Elevation angle (°)</text>
<text transform="translate(18.20 219.60) rotate(-90) scale(1 1.080)" font-size="13.60" fill="#262626" stroke="#262626" stroke-width="0.15" text-anchor="middle">Azimuth angle (°)</text>
<text transform="translate(90.90 18.60) scale(1 1.080)" font-size="13.70" fill="#000" stroke="#000" stroke-width="0.15" text-anchor="middle">SNR = -21dB</text>
<path d="M193.40 415.00v-4M193.40 24.20v4M213.40 415.00v-4M213.40 24.20v4M233.40 415.00v-4M233.40 24.20v4M253.40 415.00v-4M253.40 24.20v4M183.40 401.52h4M263.40 401.52h-4M183.40 334.14h4M263.40 334.14h-4M183.40 266.77h4M263.40 266.77h-4M183.40 199.39h4M263.40 199.39h-4M183.40 132.01h4M263.40 132.01h-4M183.40 64.63h4M263.40 64.63h-4" stroke="#333" stroke-width="0.85" fill="none"/>
<rect x="183.40" y="24.20" width="80.00" height="390.80" stroke="#333" stroke-width="0.85" fill="none"/>
<text transform="translate(193.40 430.20) scale(1 1.080)" font-size="11.40" fill="#262626" stroke="#262626" stroke-width="0.15" text-anchor="middle">20</text>
<text transform="translate(213.40 430.20) scale(1 1.080)" font-size="11.40" fill="#262626" stroke="#262626" stroke-width="0.15" text-anchor="middle">40</text>
<text transform="translate(233.40 430.20) scale(1 1.080)" font-size="11.40" fill="#262626" stroke="#262626" stroke-width="0.15" text-anchor="middle">60</text>
<text transform="translate(253.40 430.20) scale(1 1.080)" font-size="11.40" fill="#262626" stroke="#262626" stroke-width="0.15" text-anchor="middle">80</text>
<text transform="translate(178.80 405.62) scale(1 1.080)" font-size="11.40" fill="#262626" stroke="#262626" stroke-width="0.15" text-anchor="end">-100</text>
<text transform="translate(178.80 338.24) scale(1 1.080)" font-size="11.40" fill="#262626" stroke="#262626" stroke-width="0.15" text-anchor="end">-50</text>
<text transform="translate(178.80 270.87) scale(1 1.080)" font-size="11.40" fill="#262626" stroke="#262626" stroke-width="0.15" text-anchor="end">0</text>
<text transform="translate(178.80 203.49) scale(1 1.080)" font-size="11.40" fill="#262626" stroke="#262626" stroke-width="0.15" text-anchor="end">50</text>
<text transform="translate(178.80 136.11) scale(1 1.080)" font-size="11.40" fill="#262626" stroke="#262626" stroke-width="0.15" text-anchor="end">100</text>
<text transform="translate(178.80 68.73) scale(1 1.080)" font-size="11.40" fill="#262626" stroke="#262626" stroke-width="0.15" text-anchor="end">150</text>
<text transform="translate(224.40 448.10) scale(1 1.080)" font-size="13.60" fill="#262626" stroke="#262626" stroke-width="0.15" text-anchor="middle">Elevation angle (°)</text>
<text transform="translate(150.10 219.60) rotate(-90) scale(1 1.080)" font-size="13.60" fill="#262626" stroke="#262626" stroke-width="0.15" text-anchor="middle">Azimuth angle (°)</text>
<text transform="translate(222.80 18.60) scale(1 1.080)" font-size="13.70" fill="#000" stroke="#000" stroke-width="0.15" text-anchor="middle">SNR = -12dB</text>
<path d="M324.56 415.00v-4M324.56 24.20v4M344.69 415.00v-4M344.69 24.20v4M364.81 415.00v-4M364.81 24.20v4M384.94 415.00v-4M384.94 24.20v4M314.50 401.52h4M395.00 401.52h-4M314.50 334.14h4M395.00 334.14h-4M314.50 266.77h4M395.00 266.77h-4M314.50 199.39h4M395.00 199.39h-4M314.50 132.01h4M395.00 132.01h-4M314.50 64.63h4M395.00 64.63h-4" stroke="#333" stroke-width="0.85" fill="none"/>
<rect x="314.50" y="24.20" width="80.50" height="390.80" stroke="#333" stroke-width="0.85" fill="none"/>
<text transform="translate(324.56 430.20) scale(1 1.080)" font-size="11.40" fill="#262626" stroke="#262626" stroke-width="0.15" text-anchor="middle">20</text>
<text transform="translate(344.69 430.20) scale(1 1.080)" font-size="11.40" fill="#262626" stroke="#262626" stroke-width="0.15" text-anchor="middle">40</text>
<text transform="translate(364.81 430.20) scale(1 1.080)" font-size="11.40" fill="#262626" stroke="#262626" stroke-width="0.15" text-anchor="middle">60</text>
<text transform="translate(384.94 430.20) scale(1 1.080)" font-size="11.40" fill="#262626" stroke="#262626" stroke-width="0.15" text-anchor="middle">80</text>
<text transform="translate(309.90 405.62) scale(1 1.080)" font-size="11.40" fill="#262626" stroke="#262626" stroke-width="0.15" text-anchor="end">-100</text>
<text transform="translate(309.90 270.87) scale(1 1.080)" font-size="11.40" fill="#262626" stroke="#262626" stroke-width="0.15" text-anchor="end">0</text>
<text transform="translate(309.90 203.49) scale(1 1.080)" font-size="11.40" fill="#262626" stroke="#262626" stroke-width="0.15" text-anchor="end">50</text>
<text transform="translate(309.90 136.11) scale(1 1.080)" font-size="11.40" fill="#262626" stroke="#262626" stroke-width="0.15" text-anchor="end">100</text>
<text transform="translate(309.90 68.73) scale(1 1.080)" font-size="11.40" fill="#262626" stroke="#262626" stroke-width="0.15" text-anchor="end">150</text>
<text transform="translate(355.75 448.10) scale(1 1.080)" font-size="13.60" fill="#262626" stroke="#262626" stroke-width="0.15" text-anchor="middle">Elevation angle (°)</text>
<text transform="translate(281.20 219.60) rotate(-90) scale(1 1.080)" font-size="13.60" fill="#262626" stroke="#262626" stroke-width="0.15" text-anchor="middle">Azimuth angle (°)</text>
<text transform="translate(354.15 18.60) scale(1 1.080)" font-size="13.70" fill="#000" stroke="#000" stroke-width="0.15" text-anchor="middle">SNR = -3dB</text>
<path d="M456.56 415.00v-4M456.56 24.20v4M476.69 415.00v-4M476.69 24.20v4M496.81 415.00v-4M496.81 24.20v4M516.94 415.00v-4M516.94 24.20v4M446.50 401.52h4M527.00 401.52h-4M446.50 334.14h4M527.00 334.14h-4M446.50 266.77h4M527.00 266.77h-4M446.50 199.39h4M527.00 199.39h-4M446.50 132.01h4M527.00 132.01h-4M446.50 64.63h4M527.00 64.63h-4" stroke="#333" stroke-width="0.85" fill="none"/>
<rect x="446.50" y="24.20" width="80.50" height="390.80" stroke="#333" stroke-width="0.85" fill="none"/>
<text transform="translate(456.56 430.20) scale(1 1.080)" font-size="11.40" fill="#262626" stroke="#262626" stroke-width="0.15" text-anchor="middle">20</text>
<text transform="translate(476.69 430.20) scale(1 1.080)" font-size="11.40" fill="#262626" stroke="#262626" stroke-width="0.15" text-anchor="middle">40</text>
<text transform="translate(496.81 430.20) scale(1 1.080)" font-size="11.40" fill="#262626" stroke="#262626" stroke-width="0.15" text-anchor="middle">60</text>
<text transform="translate(516.94 430.20) scale(1 1.080)" font-size="11.40" fill="#262626" stroke="#262626" stroke-width="0.15" text-anchor="middle">80</text>
<text transform="translate(441.90 405.62) scale(1 1.080)" font-size="11.40" fill="#262626" stroke="#262626" stroke-width="0.15" text-anchor="end">-100</text>
<text transform="translate(441.90 338.24) scale(1 1.080)" font-size="11.40" fill="#262626" stroke="#262626" stroke-width="0.15" text-anchor="end">-50</text>
<text transform="translate(441.90 270.87) scale(1 1.080)" font-size="11.40" fill="#262626" stroke="#262626" stroke-width="0.15" text-anchor="end">0</text>
<text transform="translate(441.90 203.49) scale(1 1.080)" font-size="11.40" fill="#262626" stroke="#262626" stroke-width="0.15" text-anchor="end">50</text>
<text transform="translate(441.90 136.11) scale(1 1.080)" font-size="11.40" fill="#262626" stroke="#262626" stroke-width="0.15" text-anchor="end">100</text>
<text transform="translate(441.90 68.73) scale(1 1.080)" font-size="11.40" fill="#262626" stroke="#262626" stroke-width="0.15" text-anchor="end">150</text>
<text transform="translate(487.75 448.10) scale(1 1.080)" font-size="13.60" fill="#262626" stroke="#262626" stroke-width="0.15" text-anchor="middle">Elevation angle (°)</text>
<text transform="translate(413.20 219.60) rotate(-90) scale(1 1.080)" font-size="13.60" fill="#262626" stroke="#262626" stroke-width="0.15" text-anchor="middle">Azimuth angle (°)</text>
<text transform="translate(486.15 18.60) scale(1 1.080)" font-size="13.70" fill="#000" stroke="#000" stroke-width="0.15" text-anchor="middle">SNR = 6dB</text>
<path d="M83.50,354.35L84.71,358.08L88.64,358.08L85.46,360.39L86.67,364.12L83.50,361.81L80.33,364.12L81.54,360.39L78.36,358.08L82.29,358.08ZM95.50,164.34L96.71,168.07L100.64,168.07L97.46,170.38L98.67,174.11L95.50,171.80L92.33,174.11L93.54,170.38L90.36,168.07L94.29,168.07ZM89.50,79.44L90.71,83.17L94.64,83.17L91.46,85.48L92.67,89.21L89.50,86.90L86.33,89.21L87.54,85.48L84.36,83.17L88.29,83.17ZM215.40,354.35L216.61,358.08L220.54,358.08L217.36,360.39L218.57,364.12L215.40,361.81L212.23,364.12L213.44,360.39L210.26,358.08L214.19,358.08ZM227.40,164.34L228.61,168.07L232.54,168.07L229.36,170.38L230.57,174.11L227.40,171.80L224.23,174.11L225.44,170.38L222.26,168.07L226.19,168.07ZM221.40,79.44L222.61,83.17L226.54,83.17L223.36,85.48L224.57,89.21L221.40,86.90L218.23,89.21L219.44,85.48L216.26,83.17L220.19,83.17ZM346.70,354.35L347.91,358.08L351.84,358.08L348.66,360.39L349.87,364.12L346.70,361.81L343.53,364.12L344.74,360.39L341.56,358.08L345.49,358.08ZM358.77,164.34L359.99,168.07L363.91,168.07L360.74,170.38L361.95,174.11L358.77,171.80L355.60,174.11L356.81,170.38L353.64,168.07L357.56,168.07ZM352.74,79.44L353.95,83.17L357.87,83.17L354.70,85.48L355.91,89.21L352.74,86.90L349.56,89.21L350.78,85.48L347.60,83.17L351.53,83.17ZM478.70,354.35L479.91,358.08L483.84,358.08L480.66,360.39L481.87,364.12L478.70,361.81L475.53,364.12L476.74,360.39L473.56,358.08L477.49,358.08ZM490.77,164.34L491.99,168.07L495.91,168.07L492.74,170.38L493.95,174.11L490.77,171.80L487.60,174.11L488.81,170.38L485.64,168.07L489.56,168.07ZM484.74,79.44L485.95,83.17L489.87,83.17L486.70,85.48L487.91,89.21L484.74,86.90L481.56,89.21L482.78,85.48L479.60,83.17L483.53,83.17Z" fill="none" stroke="#000" stroke-width="1.7" stroke-linejoin="round"/>
<rect x="197.60" y="271.50" width="179.10" height="63.50" fill="#fff" stroke="#262626" stroke-width="0.9"/>
<path d="M217.10 278.90l5 5m0-5l-5 5" stroke="#0072BD" stroke-width="1.4" fill="none"/>
<path d="M217.10 293.80l5 5m0-5l-5 5" stroke="#D95319" stroke-width="1.4" fill="none"/>
<path d="M217.10 308.30l5 5m0-5l-5 5" stroke="#EDB120" stroke-width="1.4" fill="none"/>
<path d="M219.60,321.00L220.81,324.73L224.74,324.73L221.56,327.04L222.77,330.77L219.60,328.46L216.43,330.77L217.64,327.04L214.46,324.73L218.39,324.73Z" fill="none" stroke="#000" stroke-width="1.7" stroke-linejoin="round"/>
<text transform="translate(234.20 285.50) scale(1 1.080)" font-size="11.40" fill="#262626" stroke="#262626" stroke-width="0.15">DOA estimate of source 1</text>
<text transform="translate(234.20 300.40) scale(1 1.080)" font-size="11.40" fill="#262626" stroke="#262626" stroke-width="0.15">DOA estimate of source 2</text>
<text transform="translate(234.20 314.90) scale(1 1.080)" font-size="11.40" fill="#262626" stroke="#262626" stroke-width="0.15">DOA estimate of source 3</text>
<text transform="translate(234.20 330.00) scale(1 1.080)" font-size="11.40" fill="#262626" stroke="#262626" stroke-width="0.15">Real DOA of three sources</text>
<text transform="translate(309.90 338.24) scale(1 1.080)" font-size="11.40" fill="#262626" stroke="#262626" stroke-width="0.15" text-anchor="end">-50</text>
</svg></body></html>
